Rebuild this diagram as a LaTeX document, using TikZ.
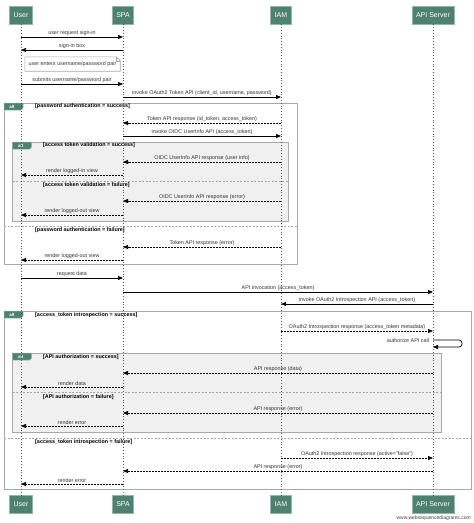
\documentclass[tikz,border=0pt]{standalone}
\usepackage{fontspec}
\setmainfont{Liberation Sans}
\usetikzlibrary{arrows.meta}
\definecolor{wsdgreen}{RGB}{78,130,112}
\definecolor{wsdedge}{RGB}{150,180,168}
\definecolor{wsdline}{RGB}{60,100,88}
\definecolor{framegray}{RGB}{168,168,168}
\definecolor{boxgray}{RGB}{240,240,240}
\tikzset{
  actor/.style={draw=wsdedge, fill=wsdgreen, text=white, font=\fontsize{7}{8}\selectfont,
    minimum height=18pt, inner xsep=4pt, line width=0.8pt},
  lifeline/.style={wsdline, dotted, line width=0.8pt},
  msg/.style={-{Triangle[length=5pt,width=4pt]}, line width=0.7pt},
  reply/.style={msg, dash pattern=on 2pt off 1pt},
  lbl/.style={above, inner sep=0.8pt, font=\fontsize{5.4}{6}\selectfont, text=black!80},
  frame/.style={draw=framegray, line width=0.7pt},
  innerframe/.style={frame, fill=boxgray},
  cond/.style={anchor=west, inner sep=0pt, font=\bfseries\fontsize{5.4}{6}\selectfont},
  divider/.style={framegray, dash pattern=on 2pt off 1.5pt, line width=0.7pt},
  alttab/.style={fill=wsdgreen, draw=wsdedge, line width=0.5pt},
  tabtext/.style={text=white, inner sep=0pt, font=\bfseries\fontsize{4.5}{5}\selectfont},
}
\begin{document}
\begin{tikzpicture}[x=1pt, y=-1pt]
\useasboundingbox (0,0) rectangle (474,523);

% alt frames
\draw[frame, fill=white] (4,103) rectangle (297,264);
\draw[innerframe] (12.7,142) rectangle (288,221);
\draw[divider] (12.7,181) -- (288,181);
\draw[divider] (4,226) -- (297,226);
\draw[frame, fill=white] (4,311) rectangle (471,489);
\draw[innerframe] (12.7,353) rectangle (441,432);
\draw[divider] (12.7,392) -- (441,392);
\draw[divider] (4,438) -- (471,438);

\foreach \x/\y in {4/103, 12.7/142, 4/311, 12.7/353}{
  \draw[alttab] (\x,\y) -- ++(19,0) -- ++(0,5) -- ++(-2,2) -- ++(-17,0) -- cycle;
  \node[tabtext] at (\x+8,\y+3.6) {alt};
}
\node[cond] (c1) at (35,106) {[password authentication = success]};
\node[cond] (c2) at (43,145) {[access token validation = success]};
\node[cond] (c3) at (43,185) {[access token validation = failure]};
\node[cond] (c4) at (35,230) {[password authentication = failure]};
\node[cond] (c5) at (35,315) {[access\_token introspection = success]};
\node[cond] (c6) at (43,357) {[API authorization = success]};
\node[cond] (c7) at (43,397) {[API authorization = failure]};
\node[cond] (c8) at (35,442) {[access\_token introspection = failure]};

% participants
\node[actor] (user) at (21,15) {User};
\node[actor] (spa) at (123,15) {SPA};
\node[actor] (iam) at (281,15) {IAM};
\node[actor] (api) at (433,15) {API Server};
\node[actor] (userfoot) at (21,504.5) {User};
\node[actor] (spafoot) at (123,504.5) {SPA};
\node[actor] (iamfoot) at (281,504.5) {IAM};
\node[actor] (apifoot) at (433,504.5) {API Server};
\foreach \p in {user, spa, iam, api}
  \draw[lifeline] (\p) -- (\p foot);

% note
\node[inner sep=0pt, minimum width=95pt, minimum height=14pt] (note) at (72.5,64) {};
\draw[framegray, fill=white, line width=0.6pt] (note.south west) -- (note.north west) -- ([xshift=-4pt]note.north east)
  -- ([yshift=-4pt]note.north east) -- (note.south east) -- cycle;
\draw[framegray, line width=0.6pt] ([xshift=-4pt]note.north east) |- ([yshift=-4pt]note.north east);
\node[inner sep=0pt, font=\fontsize{5.4}{6}\selectfont, text=black!80] (notetext) at (note) {user enters username/password pair};

% messages
\foreach \y/\a/\b/\s/\t in {
  37/user/spa/msg/{user request sign-in},
  50/spa/user/msg/{sign-in box},
  84/user/spa/msg/{submits username/password pair},
  97/spa/iam/msg/{invoke OAuth2 Token API (client\_id, username, password)},
  123/iam/spa/reply/{Token API response (id\_token, access\_token)},
  136/spa/iam/msg/{invoke OIDC UserInfo API (access\_token)},
  162/iam/spa/reply/{OIDC UserInfo API response (user info)},
  175/spa/user/reply/{render logged-in view},
  201/iam/spa/reply/{OIDC UserInfo API response (error)},
  215/spa/user/reply/{render logged-out view},
  247/iam/spa/reply/{Token API response (error)},
  260/spa/user/reply/{render logged-out view},
  278/user/spa/msg/{request data},
  292/spa/api/msg/{API invocation (access\_token)},
  304/api/iam/msg/{invoke OAuth2 Introspection API (access\_token)},
  331/iam/api/reply/{OAuth2 Introspection response (access\_token metadata)},
  373/api/spa/reply/{API response (data)},
  387/spa/user/reply/{render data},
  413/api/spa/reply/{API response (error)},
  426/spa/user/reply/{render error},
  458/iam/api/reply/{OAuth2 Introspection response (active="false")},
  471/api/spa/reply/{API response (error)},
  484/spa/user/reply/{render error}}
  \draw[\s] (\a |- 0,\y) -- node[lbl] {\t} (\b |- 0,\y);

% self call
\draw[msg, rounded corners=3pt] (api |- 0,340) -- (462,340) -- (462,347) -- (api |- 0,347);
\node[lbl, anchor=base east] (selfcall) at (430,342) {authorize API call};

\node[anchor=base east, inner sep=0pt, font=\fontsize{5}{6}\selectfont, text=black!75] (wsd) at (471,519) {www.websequencediagrams.com};
\end{tikzpicture}
\end{document}
